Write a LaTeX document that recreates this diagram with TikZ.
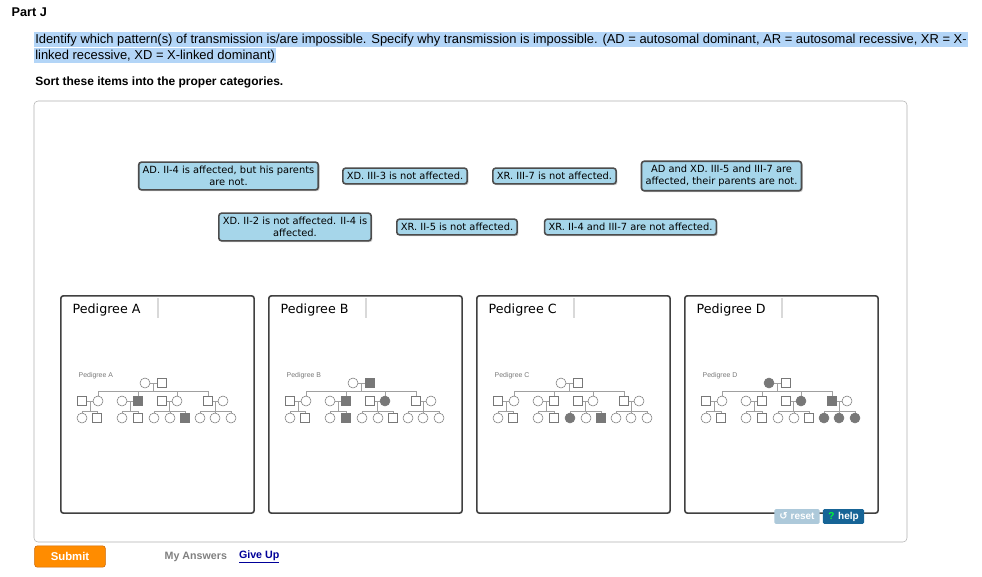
\documentclass[tikz,border=0pt]{standalone}
\usepackage{fontspec}
\setmainfont{Liberation Sans}
\newfontfamily\cardfont{DejaVu Sans}
\usetikzlibrary{positioning,shadows}
\definecolor{hilite}{RGB}{179,213,247}
\definecolor{cardfill}{RGB}{166,214,234}
\definecolor{pedgray}{RGB}{120,120,120}
\definecolor{helpblue}{RGB}{22,100,150}
\tikzset{
  card/.style={draw=black!70,line width=1.2pt,fill=cardfill,rounded corners=2pt,
    font=\cardfont\fontsize{7.4}{9}\selectfont,align=center,inner sep=3pt,
    drop shadow={shadow xshift=1pt,shadow yshift=-1pt,opacity=.4}},
  panel/.style={draw=black!75,line width=1.2pt,fill=white,rounded corners=2pt},
  pline/.style={draw=pedgray!70,line width=0.5pt},
  pc/.style={circle,draw=pedgray,fill=white,minimum size=7.5pt,inner sep=0pt},
  pC/.style={pc,fill=pedgray},
  ps/.style={rectangle,draw=pedgray,fill=white,minimum size=7pt,inner sep=0pt},
  pS/.style={ps,fill=pedgray},
}
% one pedigree: #1 x offset, #2 letter, #3 parents, #4 gen II, #5 gen III
\newcommand{\pedigree}[5]{%
  \begin{scope}[xshift=#1*0.75pt]
    \node[panel,minimum width=145pt,minimum height=163pt,anchor=north west] (box#2) at (60,295) {};
    \node[font=\fontsize{9.5}{11}\selectfont\cardfont,anchor=west] (title#2) at (68,310) {Pedigree #2};
    \draw[black!15,line width=1pt] (158,298) -- (158,318);
    \node[font=\fontsize{5.2}{6}\selectfont,text=pedgray,anchor=west] (small#2) at (74,376) {Pedigree #2};
    % connecting lines
    \draw[pline] (145,383) -- (162,383) (153.5,383) -- (153.5,391) (98,391) -- (208,391);
    \foreach \d in {98,138,177,208} \draw[pline] (\d,391) -- (\d,401);
    \foreach \a/\b in {82/98,122/138,162/177,208/223} \draw[pline] (\a,401) -- (\b,401);
    \foreach \m/\l/\r in {90/82/97,130/122/138,169.5/154/185,215.5/200/231}
      \draw[pline] (\m,401) -- (\m,411) (\l,411) -- (\r,411);
    \foreach \c in {82,97,122,138,154,170,185,200,215,231} \draw[pline] (\c,411) -- (\c,418);
    % symbols
    \foreach \x/\t [count=\i] in {#3} \node[p\t] (#2p\i) at (\x,383) {};
    \foreach \x/\t [count=\i] in {#4} \node[p\t] (#2q\i) at (\x,401) {};
    \foreach \x/\t [count=\i] in {#5} \node[p\t] (#2r\i) at (\x,418) {};
  \end{scope}}

\begin{document}
\begin{tikzpicture}[x=0.75pt,y=-0.75pt]
\useasboundingbox (0,0) rectangle (982,576);
\fill[white] (0,0) rectangle (982,576);

\node[font=\bfseries\fontsize{9.5}{11}\selectfont,anchor=west] (part) at (7,12) {Part J};
\fill[hilite] (34,32) rectangle (968,47);
\fill[hilite] (34,48) rectangle (276,63);
\node[font=\fontsize{9.7}{11}\selectfont,anchor=west,inner sep=0pt] (q1) at (35,40)
  {Identify which pattern(s) of transmission is/are impossible. Specify why transmission is impossible. (AD = autosomal dominant, AR = autosomal recessive, XR = X-};
\node[font=\fontsize{9.7}{11}\selectfont,anchor=west,inner sep=0pt] (q2) at (35,56)
  {linked recessive, XD = X-linked dominant)};
\node[font=\bfseries\fontsize{9}{10}\selectfont,anchor=west,inner sep=0pt] (sort) at (35,82)
  {Sort these items into the proper categories.};

\draw[black!30,fill=white,rounded corners=3pt] (34,101) rectangle (907,542);

% cards
\node[card] (c1) at (228.5,176) {AD. II-4 is affected, but his parents\\are not.};
\node[card] (c2) at (405,176) {XD. III-3 is not affected.};
\node[card] (c3) at (554.5,176) {XR. III-7 is not affected.};
\node[card] (c4) at (721.5,176) {AD and XD. III-5 and III-7 are\\affected, their parents are not.};
\node[card] (c5) at (295,227) {XD. II-2 is not affected. II-4 is\\affected.};
\node[card] (c6) at (457,227) {XR. II-5 is not affected.};
\node[card] (c7) at (630.5,227) {XR. II-4 and III-7 are not affected.};

\pedigree{0}{A}{145/c,162/s}{82/s,98/c,122/c,138/S,162/s,177/c,208/s,223/c}{82/c,97/s,122/c,138/s,154/c,170/c,185/S,200/c,215/c,231/c}
\pedigree{208}{B}{145/c,162/S}{82/s,98/c,122/c,138/S,162/s,177/C,208/s,223/c}{82/c,97/s,122/c,138/S,154/c,170/c,185/s,200/c,215/c,231/c}
\pedigree{416}{C}{145/c,162/s}{82/s,98/c,122/c,138/s,162/s,177/c,208/s,223/c}{82/c,97/s,122/c,138/s,154/C,170/c,185/S,200/c,215/c,231/c}
\pedigree{624}{D}{145/C,162/s}{82/s,98/c,122/c,138/s,162/s,177/C,208/S,223/c}{82/c,97/s,122/c,138/s,154/c,170/c,185/s,200/C,215/C,231/C}

% buttons
\node[fill=helpblue!35,text=white,font=\bfseries\fontsize{7.5}{9}\selectfont,rounded corners=1pt,
  minimum width=34pt,minimum height=11pt,inner sep=1pt] (reset) at (797,516.5) {{\cardfont ↺} reset};
\node[fill=helpblue,text=white,font=\bfseries\fontsize{7.5}{9}\selectfont,rounded corners=1pt,
  minimum width=31pt,minimum height=11pt,inner sep=1pt,right=2pt of reset] (help) {\textcolor{green!80!cyan}{?} help};
\node[fill=orange!90!yellow,draw=orange!80!black,text=white,font=\bfseries\fontsize{8.5}{10}\selectfont,rounded corners=2pt,
  minimum width=53pt,minimum height=16pt] (submit) at (70,556.5) {Submit};
\node[font=\bfseries\fontsize{8}{10}\selectfont,text=black!50,anchor=west] (mine) at (160,557) {My Answers};
\node[font=\bfseries\fontsize{8}{10}\selectfont,text=blue!60!black,anchor=west,right=2pt of mine] (giveup) {\underline{Give Up}};
\end{tikzpicture}
\end{document}
